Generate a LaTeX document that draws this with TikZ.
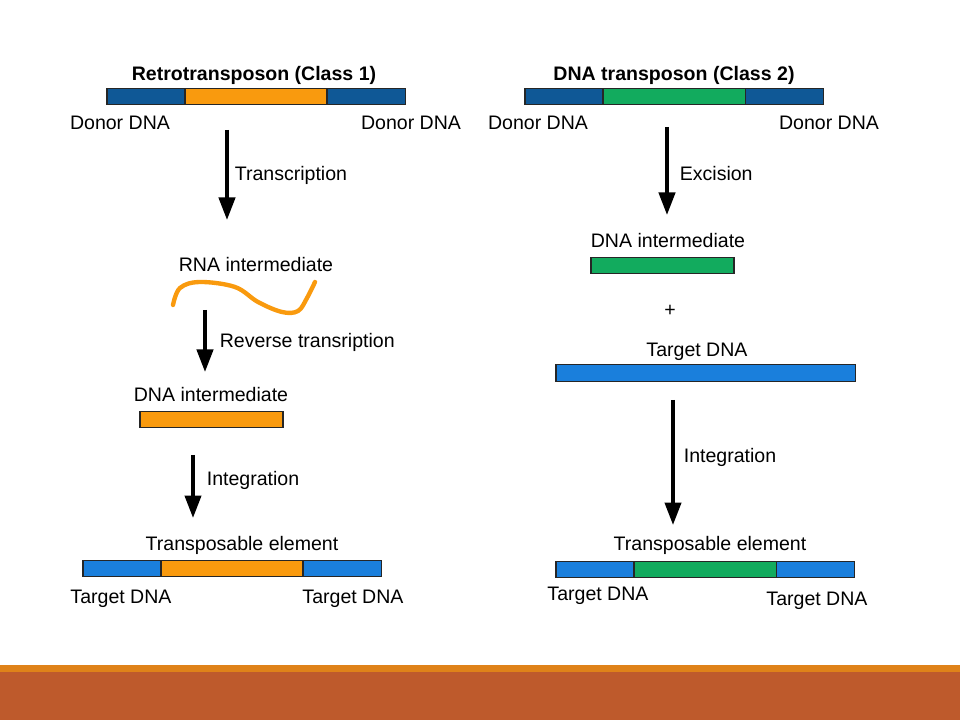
\documentclass[tikz,border=0pt]{standalone}
\usepackage{fontspec}
\setmainfont{Liberation Sans}
\usetikzlibrary{arrows.meta, positioning}

\definecolor{donorblue}{HTML}{0F5896}
\definecolor{targetblue}{HTML}{1A7FDC}
\definecolor{retroorange}{HTML}{F99A0E}
\definecolor{tegreen}{HTML}{12AB5E}
\definecolor{bandorange}{HTML}{DF8219}
\definecolor{bandbrown}{HTML}{BE5A2C}

\begin{document}
\begin{tikzpicture}[
    x=0.025cm, y=-0.025cm,
    seg/.style={rectangle, draw=black!85, line width=0.8pt, inner sep=0pt, outer sep=0pt, minimum height=0.41cm, anchor=west},
    flank/.style={seg, minimum width=1.95cm},
    insert/.style={seg, minimum width=3.55cm},
    txt/.style={font=\fontsize{13.9}{16}\selectfont, inner sep=0pt, anchor=base},
    ttl/.style={txt, font=\fontsize{13.9}{16}\selectfont\bfseries},
    arrow/.style={-{Triangle[width=11.5pt, length=16pt]}, line width=2.6pt},
    lbl/.style={font=\fontsize{13.9}{16}\selectfont, inner sep=0pt, anchor=west}
]
\useasboundingbox (0,0) rectangle (960,720);

% --- Faixa inferior ---
\fill[bandorange] (0,665) rectangle (960,672);
\fill[bandbrown] (0,672) rectangle (960,720);

% === Coluna esquerda: retrotransposon ===
\node[ttl] (retroTitle) at (254,81) {Retrotransposon (Class 1)};
\node[flank, fill=donorblue] (rdL) at (107,96.5) {};
\node[insert, fill=retroorange, right=0pt of rdL] (rIns) {};
\node[flank, fill=donorblue, right=0pt of rIns] (rdR) {};
\node[txt] (rDonorL) at (120,130) {Donor DNA};
\node[txt] (rDonorR) at (411,130) {Donor DNA};

\node[txt] (rna) at (256,272) {RNA intermediate};
\draw[retroorange, line width=3.1pt, line cap=round]
    plot[smooth, tension=0.6] coordinates {(173,305) (180,288) (200,282) (235,287) (258,302) (282,312) (298,311) (307,298) (315,282)};

\node[txt] (rDnaTxt) at (211,402) {DNA intermediate};
\node[insert, minimum width=3.575cm, fill=retroorange] (rDna) at (140,419.5) {};

\node[txt] (rTeTxt) at (242,551) {Transposable element};
\node[flank, fill=targetblue] (rtL) at (83,568.5) {};
\node[insert, fill=retroorange, right=0pt of rtL] (rTe) {};
\node[flank, fill=targetblue, right=0pt of rTe] (rtR) {};
\node[txt] (rTargetL) at (121,603) {Target DNA};
\node[txt] (rTargetR) at (353,603) {Target DNA};

% === Coluna direita: transposon de DNA ===
\node[ttl] (dnaTitle) at (674,81) {DNA transposon (Class 2)};
\node[flank, fill=donorblue] (ddL) at (525,96.5) {};
\node[insert, fill=tegreen, right=0pt of ddL] (dIns) {};
\node[flank, fill=donorblue, right=0pt of dIns] (ddR) {};
\node[txt] (dDonorL) at (538,130) {Donor DNA};
\node[txt] (dDonorR) at (829,130) {Donor DNA};

\node[txt] (dDnaTxt) at (668,248) {DNA intermediate};
\node[insert, minimum width=3.575cm, fill=tegreen] (dDna) at (591,265.5) {};
\node[txt] (plus) at (670,317) {+};
\node[txt] (dTargetTxt) at (697,357) {Target DNA};
\node[seg, minimum width=7.475cm, fill=targetblue] (dTarget) at (556,373) {};

\node[txt] (dTeTxt) at (710,551) {Transposable element};
\node[flank, fill=targetblue] (dtL) at (556,569.5) {};
\node[insert, fill=tegreen, right=0pt of dtL] (dTe) {};
\node[flank, fill=targetblue, right=0pt of dTe] (dtR) {};
\node[txt] (dTargetL) at (598,600) {Target DNA};
\node[txt] (dTargetR) at (817,605) {Target DNA};

% === SETAS ===
\coordinate (trA) at (227,130);  \coordinate (trB) at (227,220);
\coordinate (rtA) at (205,310);  \coordinate (rtB) at (205,372);
\coordinate (inA) at (193,455);  \coordinate (inB) at (193,518);
\coordinate (exA) at (667,127);  \coordinate (exB) at (667,215);
\coordinate (igA) at (673,400);  \coordinate (igB) at (673,525);

\draw[arrow] (trA) -- node[lbl, pos=0.5, xshift=0.15cm] {Transcription} (trB);
\draw[arrow] (rtA) -- node[lbl, pos=0.53, xshift=0.325cm] {Reverse transription} (rtB);
\draw[arrow] (inA) -- node[lbl, pos=0.41, xshift=0.3cm] {Integration} (inB);
\draw[arrow] (exA) -- node[lbl, pos=0.53, xshift=0.275cm] {Excision} (exB);
\draw[arrow] (igA) -- node[lbl, pos=0.46, xshift=0.225cm] {Integration} (igB);

\end{tikzpicture}
\end{document}
